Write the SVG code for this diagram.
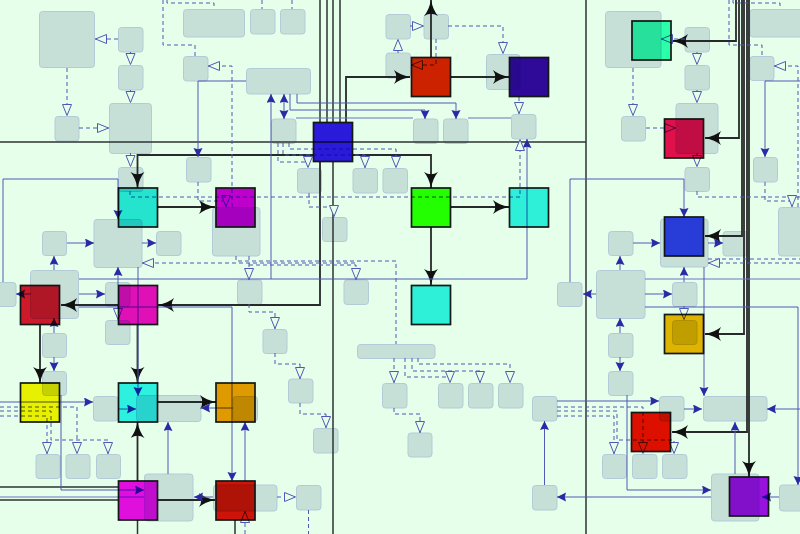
<svg xmlns="http://www.w3.org/2000/svg" width="800" height="534" viewBox="0 0 800 534">
<style>
.n{fill:#c6e0d8;stroke:#b3cbd6;stroke-width:1}
.s{stroke:#141818;stroke-width:1.7;mix-blend-mode:multiply}
path{fill:none}
.k{stroke:#262a2a;stroke-width:1.8;marker-end:url(#ah)}
.kn{stroke:#2e3434;stroke-width:1.5}
.b{stroke:#5058b8;stroke-width:1;marker-end:url(#af)}
.bn{stroke:#6a72c4;stroke-width:1}
.d{stroke:#4f58b4;stroke-width:1;stroke-dasharray:4 3;marker-end:url(#ao)}
.dn{stroke:#4f58b4;stroke-width:1;stroke-dasharray:4 3}
</style>
<defs>
<marker id="ah" markerUnits="userSpaceOnUse" markerWidth="17" markerHeight="15" refX="16" refY="7" orient="auto"><path d="M0,0Q6,5 16,7Q6,9 0,14Q4.500,7 0,0Z" style="fill:#111;stroke:none"/></marker>
<marker id="af" markerUnits="userSpaceOnUse" markerWidth="10" markerHeight="10" refX="9" refY="4.500" orient="auto"><path d="M0,0L9,4.500L0,9L1.200,4.500Z" style="fill:#2a2aa6;stroke:none"/></marker>
<marker id="ao" markerUnits="userSpaceOnUse" markerWidth="13" markerHeight="11" refX="12" refY="5" orient="auto"><path d="M.5,.5L11.500,5L.5,9.500Z" style="fill:#e6ffea;stroke:#4f58b4;stroke-width:1"/></marker>
</defs>
<rect width="800" height="534" fill="#e6ffea"/>
<g id="grey-nodes">
<g id="g1"><rect class="n" x="39.500" y="11.500" width="55" height="56" rx="3"/></g>
<g id="g2"><rect class="n" x="118.500" y="27.500" width="24.500" height="24.500" rx="3"/></g>
<g id="g3"><rect class="n" x="118.500" y="65.500" width="24.500" height="24.500" rx="3"/></g>
<g id="g4"><rect class="n" x="109.500" y="103.500" width="42" height="50" rx="3"/></g>
<g id="g5"><rect class="n" x="55" y="116.500" width="24" height="24.500" rx="3"/></g>
<g id="g6"><rect class="n" x="118.500" y="167.500" width="24.500" height="24" rx="3"/></g>
<g id="g7"><rect class="n" x="183.500" y="9.500" width="61" height="27.500" rx="3"/></g>
<g id="g8"><rect class="n" x="250.500" y="9.500" width="24.500" height="24.500" rx="3"/></g>
<g id="g9"><rect class="n" x="280.500" y="9.500" width="24.500" height="24.500" rx="3"/></g>
<g id="g10"><rect class="n" x="183.500" y="56.500" width="24.500" height="24.500" rx="3"/></g>
<g id="g11"><rect class="n" x="246.500" y="68.500" width="64" height="25.500" rx="3"/></g>
<g id="g12"><rect class="n" x="186.500" y="157.500" width="24.500" height="24.500" rx="3"/></g>
<g id="g13"><rect class="n" x="212.500" y="207.500" width="47.500" height="48.500" rx="3"/></g>
<g id="g14"><rect class="n" x="94" y="219.500" width="48" height="48" rx="3"/></g>
<g id="g15"><rect class="n" x="42.500" y="231.500" width="24" height="24" rx="3"/></g>
<g id="g16"><rect class="n" x="156.500" y="231.500" width="24.500" height="24" rx="3"/></g>
<g id="g17"><rect class="n" x="30.500" y="270.500" width="48" height="48" rx="3"/></g>
<g id="g18"><rect class="n" x="-8" y="282.500" width="24" height="24" rx="3"/></g>
<g id="g19"><rect class="n" x="105.500" y="282.500" width="24.500" height="24" rx="3"/></g>
<g id="g20"><rect class="n" x="105.500" y="320.500" width="24.500" height="24" rx="3"/></g>
<g id="g21"><rect class="n" x="42.500" y="333.500" width="24" height="24" rx="3"/></g>
<g id="g22"><rect class="n" x="42.500" y="371.500" width="24" height="24" rx="3"/></g>
<g id="g23"><rect class="n" x="93.500" y="396.500" width="24.500" height="24.500" rx="3"/></g>
<g id="g24"><rect class="n" x="136.500" y="395.500" width="64.500" height="26" rx="3"/></g>
<g id="g25"><rect class="n" x="233" y="396.500" width="24.500" height="24.500" rx="3"/></g>
<g id="g26"><rect class="n" x="36" y="454.500" width="24" height="24" rx="3"/></g>
<g id="g27"><rect class="n" x="66" y="454.500" width="24" height="24" rx="3"/></g>
<g id="g28"><rect class="n" x="96.500" y="454.500" width="24" height="24" rx="3"/></g>
<g id="g29"><rect class="n" x="144.500" y="474" width="48.500" height="47" rx="3"/></g>
<g id="g30"><rect class="n" x="213.500" y="485" width="63.500" height="26" rx="3"/></g>
<g id="g31"><rect class="n" x="296.500" y="485.500" width="24.500" height="24.500" rx="3"/></g>
<g id="g32"><rect class="n" x="237.500" y="280" width="24.500" height="24.500" rx="3"/></g>
<g id="g33"><rect class="n" x="344" y="280" width="24.500" height="24.500" rx="3"/></g>
<g id="g34"><rect class="n" x="263" y="329.500" width="24" height="24" rx="3"/></g>
<g id="g35"><rect class="n" x="288.500" y="379" width="24.500" height="24" rx="3"/></g>
<g id="g36"><rect class="n" x="313.500" y="428.500" width="24.500" height="24.500" rx="3"/></g>
<g id="g37"><rect class="n" x="357.500" y="344.500" width="77.500" height="14" rx="3"/></g>
<g id="g38"><rect class="n" x="382.500" y="383.500" width="24.500" height="24.500" rx="3"/></g>
<g id="g39"><rect class="n" x="438.500" y="383.500" width="24.500" height="24.500" rx="3"/></g>
<g id="g40"><rect class="n" x="468.500" y="383.500" width="24.500" height="24.500" rx="3"/></g>
<g id="g41"><rect class="n" x="498.500" y="383.500" width="24.500" height="24.500" rx="3"/></g>
<g id="g42"><rect class="n" x="408" y="433" width="24" height="24" rx="3"/></g>
<g id="g43"><rect class="n" x="532.500" y="396.500" width="24.500" height="24.500" rx="3"/></g>
<g id="g44"><rect class="n" x="532.500" y="485.500" width="24.500" height="24.500" rx="3"/></g>
<g id="g45"><rect class="n" x="271.500" y="119" width="24.500" height="24.500" rx="3"/></g>
<g id="g46"><rect class="n" x="297.500" y="168.500" width="24" height="24.500" rx="3"/></g>
<g id="g47"><rect class="n" x="353" y="168.500" width="24.500" height="24.500" rx="3"/></g>
<g id="g48"><rect class="n" x="383" y="168.500" width="24.500" height="24.500" rx="3"/></g>
<g id="g49"><rect class="n" x="322.500" y="217.500" width="24.500" height="24" rx="3"/></g>
<g id="g50"><rect class="n" x="413.500" y="119" width="24.500" height="24.500" rx="3"/></g>
<g id="g51"><rect class="n" x="443.500" y="119" width="24.500" height="24.500" rx="3"/></g>
<g id="g52"><rect class="n" x="511.500" y="114.500" width="24.500" height="24.500" rx="3"/></g>
<g id="g53"><rect class="n" x="386" y="14.500" width="24.500" height="24.500" rx="3"/></g>
<g id="g54"><rect class="n" x="424" y="14.500" width="24.500" height="24.500" rx="3"/></g>
<g id="g55"><rect class="n" x="386" y="53" width="24.500" height="25" rx="3"/></g>
<g id="g56"><rect class="n" x="486.500" y="54.500" width="33.500" height="35" rx="3"/></g>
<g id="g57"><rect class="n" x="605.500" y="11.500" width="55.500" height="56" rx="3"/></g>
<g id="g58"><rect class="n" x="685" y="27.500" width="24.500" height="24.500" rx="3"/></g>
<g id="g59"><rect class="n" x="685" y="65.500" width="24.500" height="24.500" rx="3"/></g>
<g id="g60"><rect class="n" x="676" y="103.500" width="42" height="50" rx="3"/></g>
<g id="g61"><rect class="n" x="621.500" y="116.500" width="24" height="24.500" rx="3"/></g>
<g id="g62"><rect class="n" x="685" y="167.500" width="24.500" height="24" rx="3"/></g>
<g id="g63"><rect class="n" x="750" y="9.500" width="60" height="27.500" rx="3"/></g>
<g id="g64"><rect class="n" x="750" y="56.500" width="24" height="24" rx="3"/></g>
<g id="g65"><rect class="n" x="753.500" y="157.500" width="24" height="24.500" rx="3"/></g>
<g id="g66"><rect class="n" x="778.500" y="207.500" width="35" height="48.500" rx="3"/></g>
<g id="g67"><rect class="n" x="608.500" y="231.500" width="24.500" height="24" rx="3"/></g>
<g id="g68"><rect class="n" x="660.500" y="219" width="47.500" height="48" rx="3"/></g>
<g id="g69"><rect class="n" x="723" y="231.500" width="25" height="24.500" rx="3"/></g>
<g id="g70"><rect class="n" x="557.500" y="282.500" width="24.500" height="24" rx="3"/></g>
<g id="g71"><rect class="n" x="596.500" y="270.500" width="48.500" height="48" rx="3"/></g>
<g id="g72"><rect class="n" x="672.500" y="282.500" width="24.500" height="24" rx="3"/></g>
<g id="g73"><rect class="n" x="672.500" y="320.500" width="24.500" height="24" rx="3"/></g>
<g id="g74"><rect class="n" x="608.500" y="333.500" width="24.500" height="24" rx="3"/></g>
<g id="g75"><rect class="n" x="608.500" y="371.500" width="24.500" height="24" rx="3"/></g>
<g id="g76"><rect class="n" x="659.500" y="396.500" width="24.500" height="24.500" rx="3"/></g>
<g id="g77"><rect class="n" x="703.500" y="396.500" width="63.500" height="24.500" rx="3"/></g>
<g id="g78"><rect class="n" x="602.500" y="454.500" width="24" height="24" rx="3"/></g>
<g id="g79"><rect class="n" x="632.500" y="454.500" width="24.500" height="24" rx="3"/></g>
<g id="g80"><rect class="n" x="662.500" y="454.500" width="24.500" height="24" rx="3"/></g>
<g id="g81"><rect class="n" x="711.500" y="474" width="47.500" height="47" rx="3"/></g>
<g id="g82"><rect class="n" x="779.500" y="485" width="35" height="26" rx="3"/></g>
</g>
<g id="connectors">
<path class="kn" d="M0,142H586M586,0V534M333,162V534M320,0V122M327,0V122M333,0V122M340,0V122M137.500,520V534M235,520V534M0,487H118M0,500H118"/>
<path class="k" d="M320,162V305H158"/>
<path class="k" d="M346,122V77H410"/>
<path class="k" d="M431,57V0"/>
<path class="k" d="M451,77H509"/>
<path class="k" d="M313,155H137.500V188"/>
<path class="k" d="M353,155H431V188"/>
<path class="k" d="M157,207H215"/>
<path class="k" d="M451,207H509"/>
<path class="k" d="M431,227V285"/>
<path class="k" d="M40,325V383"/>
<path class="k" d="M137.500,325V383"/>
<path class="k" d="M137.500,481V422"/>
<path class="k" d="M157,402H216"/>
<path class="k" d="M118,305H61"/>
<path class="k" d="M157,500H215"/>
<path class="k" d="M736,0V41H672"/>
<path class="k" d="M739,0V138H705"/>
<path class="k" d="M742,0V236H705"/>
<path class="k" d="M744,0V334H705"/>
<path class="k" d="M747,0V432H672"/>
<path class="k" d="M749,0V477"/>
<path class="bn" d="M296,118H413M468,118H511M144,497H0M645,279H800"/>
<path class="b" d="M246,81H198V157"/>
<path class="b" d="M284,108V94"/>
<path class="b" d="M284,108V119"/>
<path class="b" d="M290,94V110H425V119"/>
<path class="b" d="M297,94V103H456V119"/>
<path class="b" d="M79,279H527V139"/>
<path class="b" d="M271,279V94"/>
<path class="b" d="M3,282V179H118V219"/>
<path class="b" d="M67,243H94"/>
<path class="b" d="M142,243H156"/>
<path class="b" d="M54,270V256"/>
<path class="b" d="M118,285V267"/>
<path class="b" d="M31,294H16"/>
<path class="b" d="M79,294H105"/>
<path class="b" d="M138,267V396"/>
<path class="b" d="M54,333V318"/>
<path class="b" d="M54,357V371"/>
<path class="b" d="M79,307H232V481"/>
<path class="b" d="M0,402H93"/>
<path class="b" d="M61,395V490H144"/>
<path class="b" d="M118,409H136"/>
<path class="b" d="M168,474V422"/>
<path class="b" d="M233,408H201"/>
<path class="b" d="M245,481V422"/>
<path class="b" d="M213,497H194"/>
<path class="b" d="M800,81H765V157"/>
<path class="b" d="M684,282V267"/>
<path class="b" d="M704,267V396"/>
<path class="b" d="M570,282V179H684V217"/>
<path class="b" d="M633,243H660"/>
<path class="b" d="M708,243H723"/>
<path class="b" d="M620,270V256"/>
<path class="b" d="M596,294H583"/>
<path class="b" d="M645,294H672"/>
<path class="b" d="M620,333V318"/>
<path class="b" d="M620,357V371"/>
<path class="b" d="M645,307H798V485"/>
<path class="b" d="M557,401H659"/>
<path class="b" d="M684,409H702"/>
<path class="b" d="M627,395V490H711"/>
<path class="b" d="M711,497H557"/>
<path class="b" d="M544.500,485V421"/>
<path class="b" d="M735,474V422"/>
<path class="b" d="M800,409H767"/>
<path class="b" d="M779,497H762"/>
<path class="dn" d="M163,0V45H195V56M167,0V3H214V9M262,0V9M292,0V9M236,256V261H396V344M308.500,510V534M729,0V45H762V56M733,0V3H780V9M697,191V197H800M708,259H800"/>
<path class="d" d="M118,39H95"/>
<path class="d" d="M130.500,52V65"/>
<path class="d" d="M130.500,90V103"/>
<path class="d" d="M67,68V116"/>
<path class="d" d="M79,128H109"/>
<path class="d" d="M130.500,153V167"/>
<path class="d" d="M232,207V66H208"/>
<path class="d" d="M198,182V201H226V207"/>
<path class="d" d="M130,191V197H520V139"/>
<path class="d" d="M278,143V162H308V168"/>
<path class="d" d="M283,143V155H365V168"/>
<path class="d" d="M289,143V149H396V168"/>
<path class="d" d="M309,193V207H334V217"/>
<path class="d" d="M355,263H142"/>
<path class="d" d="M249,265H356V280"/>
<path class="d" d="M249,256V280"/>
<path class="d" d="M249,304V312H275V329"/>
<path class="d" d="M275,353V364H300V379"/>
<path class="d" d="M300,403V414H326V428"/>
<path class="d" d="M394,358V383"/>
<path class="d" d="M405,358V377H450V383"/>
<path class="d" d="M412,358V371H480V383"/>
<path class="d" d="M418,358V364H510V383"/>
<path class="d" d="M394,408V414H420V433"/>
<path class="d" d="M277,497H296"/>
<path class="d" d="M245,534V511"/>
<path class="d" d="M410,26H424"/>
<path class="d" d="M398,53V39"/>
<path class="d" d="M448,26H503V54"/>
<path class="d" d="M436,39V65H411"/>
<path class="d" d="M519,97V114"/>
<path class="d" d="M0,407H77V454"/>
<path class="d" d="M0,411H51V440H108V454"/>
<path class="d" d="M0,416H47V454"/>
<path class="d" d="M118,306V320"/>
<path class="d" d="M685,39H661"/>
<path class="d" d="M697,52V65"/>
<path class="d" d="M697,90V103"/>
<path class="d" d="M633,68V116"/>
<path class="d" d="M646,128H676"/>
<path class="d" d="M697,153V167"/>
<path class="d" d="M798,207V66H774"/>
<path class="d" d="M765,182V201H792V207"/>
<path class="d" d="M800,263H708"/>
<path class="d" d="M557,407H643V454"/>
<path class="d" d="M557,411H617V440H674V454"/>
<path class="d" d="M557,416H614V454"/>
<path class="d" d="M684,306V320"/>
</g>
<g id="colored-nodes">
<g id="c1"><rect class="s" x="313.500" y="122.500" width="39" height="39" fill="#2e1aee"/></g>
<g id="c2"><rect class="s" x="411.500" y="57.500" width="39" height="39" fill="#e22200"/></g>
<g id="c3"><rect class="s" x="509.500" y="57.500" width="39" height="39" fill="#340aa6"/></g>
<g id="c4"><rect class="s" x="118.500" y="188" width="39" height="39" fill="#29e4e0"/></g>
<g id="c5"><rect class="s" x="216" y="188" width="39" height="39" fill="#d400e0"/></g>
<g id="c6"><rect class="s" x="411.500" y="188" width="39" height="39" fill="#26ff00"/></g>
<g id="c7"><rect class="s" x="509.500" y="188" width="39" height="39" fill="#33f0ec"/></g>
<g id="c8"><rect class="s" x="411.500" y="285.500" width="39" height="39" fill="#33f0ec"/></g>
<g id="c9"><rect class="s" x="20.500" y="285.500" width="39" height="39" fill="#e21a2d"/></g>
<g id="c10"><rect class="s" x="118.500" y="285.500" width="39" height="39" fill="#f810c6"/></g>
<g id="c11"><rect class="s" x="20.500" y="383" width="39" height="39" fill="#fff000"/></g>
<g id="c12"><rect class="s" x="118.500" y="383" width="39" height="39" fill="#33f0f2"/></g>
<g id="c13"><rect class="s" x="216" y="383" width="39" height="39" fill="#f89a00"/></g>
<g id="c14"><rect class="s" x="118.500" y="481" width="39" height="39" fill="#f810f2"/></g>
<g id="c15"><rect class="s" x="216" y="481" width="39" height="39" fill="#e21408"/></g>
<g id="c16"><rect class="s" x="632" y="21" width="39" height="39" fill="#30ffb8"/></g>
<g id="c17"><rect class="s" x="664.500" y="119" width="39" height="39" fill="#f81050"/></g>
<g id="c18"><rect class="s" x="664.500" y="217" width="39" height="39" fill="#3344ff"/></g>
<g id="c19"><rect class="s" x="664.500" y="314.500" width="39" height="39" fill="#f8b400"/></g>
<g id="c20"><rect class="s" x="631.500" y="412.500" width="39" height="39" fill="#f51000"/></g>
<g id="c21"><rect class="s" x="729.500" y="477" width="39" height="39" fill="#a812f0"/></g>
</g>
</svg>
